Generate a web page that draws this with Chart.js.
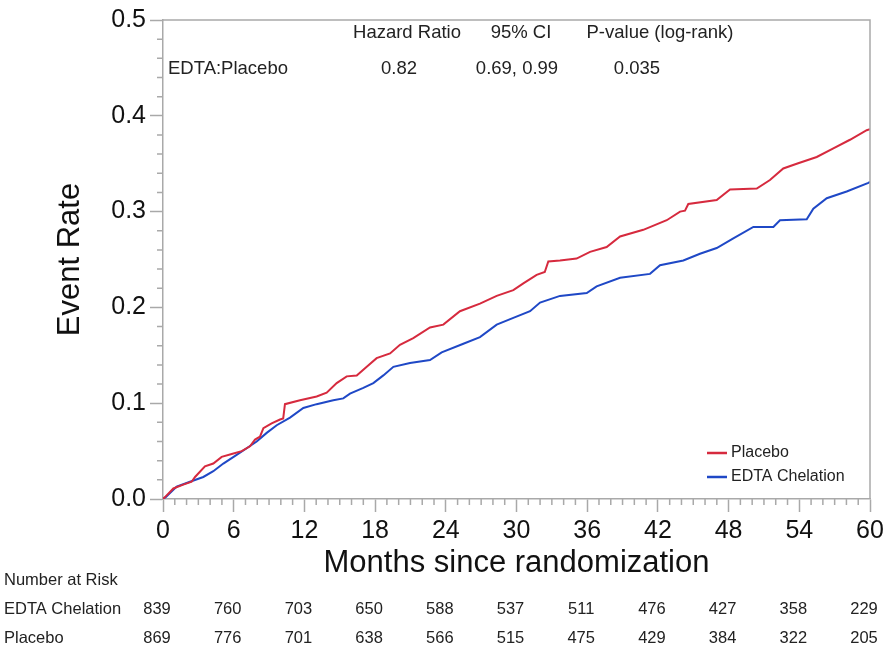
<!DOCTYPE html>
<html>
<head>
<meta charset="utf-8">
<script src="https://cdn.jsdelivr.net/npm/chart.js@4"></script>
<style>body{margin:0;background:#fff}</style>
</head>
<body>
<canvas id="kmChart" width="889" height="651"></canvas>
<script>
// values
const placeboMonths = [0, 0.17, 0.88, 1.72, 2.43, 2.72, 3.56, 4.27, 4.98, 5.83, 6.68, 7.38, 7.81, 8.23, 8.52, 9.22, 9.93, 10.2, 10.35, 11.63, 13.04, 13.89, 14.74, 15.59, 16.44, 17.29, 18.13, 19.27, 20.11, 21.24, 22.66, 23.79, 25.2, 26.9, 28.32, 29.73, 30.58, 31.71, 32.4, 32.7, 33.69, 35.1, 36.24, 37.65, 38.79, 40.76, 42.75, 43.88, 44.3, 44.58, 46.99, 48.12, 50.39, 51.51, 52.64, 53.78, 55.48, 56.89, 58.3, 59.72, 60];
const placeboRate = [0, 0.002, 0.011, 0.015, 0.018, 0.023, 0.034, 0.037, 0.044, 0.047, 0.050, 0.055, 0.062, 0.065, 0.074, 0.079, 0.083, 0.084, 0.099, 0.103, 0.107, 0.111, 0.121, 0.128, 0.129, 0.138, 0.147, 0.152, 0.161, 0.168, 0.179, 0.182, 0.196, 0.204, 0.212, 0.218, 0.225, 0.234, 0.237, 0.248, 0.249, 0.251, 0.258, 0.263, 0.274, 0.281, 0.291, 0.300, 0.301, 0.308, 0.312, 0.323, 0.324, 0.333, 0.345, 0.350, 0.357, 0.366, 0.375, 0.385, 0.386];

const edtaMonths = [0, 0.25, 1.16, 2.29, 3.42, 4.27, 5.12, 6.25, 7.1, 7.95, 8.8, 9.65, 10.78, 11.91, 13.04, 14.45, 15.3, 15.87, 17.0, 17.85, 18.7, 19.55, 20.96, 22.66, 23.65, 25.49, 26.9, 28.32, 29.73, 31.15, 32.0, 33.69, 35.96, 36.8, 38.79, 41.33, 42.18, 44.16, 45.57, 46.99, 48.4, 50.1, 51.8, 52.36, 54.63, 55.19, 56.33, 58.02, 59.86, 60];
const edtaRate = [0, 0.002, 0.013, 0.018, 0.023, 0.029, 0.037, 0.046, 0.053, 0.060, 0.069, 0.077, 0.085, 0.095, 0.099, 0.103, 0.105, 0.110, 0.116, 0.121, 0.129, 0.138, 0.142, 0.145, 0.153, 0.162, 0.169, 0.182, 0.189, 0.196, 0.205, 0.212, 0.215, 0.222, 0.231, 0.235, 0.244, 0.249, 0.256, 0.262, 0.272, 0.284, 0.284, 0.291, 0.292, 0.303, 0.314, 0.321, 0.330, 0.331];

const xTicks = [0, 6, 12, 18, 24, 30, 36, 42, 48, 54, 60];
const yTicks = [0, 0.1, 0.2, 0.3, 0.4, 0.5];
const riskMonths = [0, 6, 12, 18, 24, 30, 36, 42, 48, 54, 60];
const edtaAtRisk = [839, 760, 703, 650, 588, 537, 511, 476, 427, 358, 229];
const placeboAtRisk = [869, 776, 701, 638, 566, 515, 475, 429, 384, 322, 205];

const hrHeader = ['Hazard Ratio', '95% CI', 'P-value (log-rank)'];
const hrRow = ['EDTA:Placebo', '0.82', '0.69, 0.99', '0.035'];

const FONT = "'Liberation Sans', Arial, Helvetica, sans-serif";
const RED = '#d62a3e';
const BLUE = '#1f48c6';
const AXIS = '#a9a9a9';

const toPoints = (xs, ys) => xs.map((x, i) => ({ x: x, y: ys[i] }));

const extras = {
  id: 'extras',
  afterDraw(chart) {
    const { ctx, chartArea: a, scales: { x, y } } = chart;
    ctx.save();

    // frame top / right
    ctx.strokeStyle = AXIS;
    ctx.lineWidth = 1.5;
    ctx.beginPath();
    ctx.moveTo(a.left, a.top);
    ctx.lineTo(a.right, a.top);
    ctx.lineTo(a.right, a.bottom);
    ctx.stroke();

    // minor ticks
    ctx.beginPath();
    for (let m = 1; m < 60; m++) {
      if (m % 6 === 0) continue;
      const px = x.getPixelForValue(m);
      ctx.moveTo(px, a.bottom);
      ctx.lineTo(px, a.bottom + 6);
    }
    for (let k = 1; k < 25; k++) {
      if (k % 5 === 0) continue;
      const py = y.getPixelForValue(k * 0.02);
      ctx.moveTo(a.left - 6, py);
      ctx.lineTo(a.left, py);
    }
    ctx.stroke();

    // hazard ratio box
    ctx.fillStyle = '#222';
    ctx.textBaseline = 'middle';
    ctx.font = '18.5px ' + FONT;
    ctx.textAlign = 'center';
    ctx.fillText(hrHeader[0], 407, 33);
    ctx.fillText(hrHeader[1], 521, 33);
    ctx.fillText(hrHeader[2], 660, 33);
    ctx.textAlign = 'left';
    ctx.fillText(hrRow[0], 168, 69);
    ctx.textAlign = 'center';
    ctx.fillText(hrRow[1], 399, 69);
    ctx.fillText(hrRow[2], 517, 69);
    ctx.fillText(hrRow[3], 637, 69);

    // legend
    const series = chart.data.datasets;
    ctx.font = '16px ' + FONT;
    ctx.textAlign = 'left';
    series.forEach((ds, i) => {
      const ly = 453 + i * 24;
      ctx.strokeStyle = ds.borderColor;
      ctx.lineWidth = 2.5;
      ctx.beginPath();
      ctx.moveTo(707, ly);
      ctx.lineTo(727, ly);
      ctx.stroke();
      ctx.fillStyle = '#222';
      ctx.fillText(ds.label, 731, ly);
    });

    // number at risk
    ctx.font = '16.5px ' + FONT;
    ctx.fillStyle = '#222';
    ctx.textAlign = 'left';
    ctx.fillText('Number at Risk', 4, 580);
    ctx.fillText('EDTA Chelation', 4, 609);
    ctx.fillText('Placebo', 4, 638);
    ctx.textAlign = 'center';
    riskMonths.forEach((m, i) => {
      const px = x.getPixelForValue(m) - 6;
      ctx.fillText(String(edtaAtRisk[i]), px, 609);
      ctx.fillText(String(placeboAtRisk[i]), px, 638);
    });

    ctx.restore();
  }
};

new Chart(document.getElementById('kmChart'), {
  type: 'line',
  data: {
    datasets: [
      {
        label: 'Placebo',
        data: toPoints(placeboMonths, placeboRate),
        borderColor: RED,
        borderWidth: 2,
        pointRadius: 0,
        fill: false,
        tension: 0
      },
      {
        label: 'EDTA Chelation',
        data: toPoints(edtaMonths, edtaRate),
        borderColor: BLUE,
        borderWidth: 2,
        pointRadius: 0,
        fill: false,
        tension: 0
      }
    ]
  },
  options: {
    responsive: false,
    animation: false,
    layout: { padding: { top: 20, right: 19, bottom: 69, left: 0 } },
    plugins: { legend: { display: false }, tooltip: { enabled: false } },
    scales: {
      x: {
        type: 'linear',
        min: 0,
        max: 60,
        afterBuildTicks: s => { s.ticks = xTicks.map(v => ({ value: v })); },
        afterFit: s => { s.height = 83; },
        ticks: { font: { family: FONT, size: 25 }, color: '#111', padding: 4, maxRotation: 0, autoSkip: false },
        grid: { drawOnChartArea: false, tickLength: 13, tickColor: AXIS, tickWidth: 1.5 },
        border: { color: AXIS, width: 1.5 },
        title: {
          display: true,
          text: 'Months since randomization',
          color: '#111',
          font: { family: FONT, size: 31, lineHeight: 1.2 },
          padding: { top: 0, bottom: 0 }
        }
      },
      y: {
        min: 0,
        max: 0.5,
        afterBuildTicks: s => { s.ticks = yTicks.map(v => ({ value: v })); },
        afterFit: s => { s.width = 163; },
        ticks: { font: { family: FONT, size: 25 }, color: '#111', padding: 4, callback: v => v.toFixed(1) },
        grid: { drawOnChartArea: false, tickLength: 13, tickColor: AXIS, tickWidth: 1.5 },
        border: { color: AXIS, width: 1.5 },
        title: {
          display: true,
          text: 'Event Rate',
          color: '#111',
          font: { family: FONT, size: 31, lineHeight: 1.2 },
          padding: { top: 52, bottom: 0 }
        }
      }
    }
  },
  plugins: [extras]
});
</script>
</body>
</html>
